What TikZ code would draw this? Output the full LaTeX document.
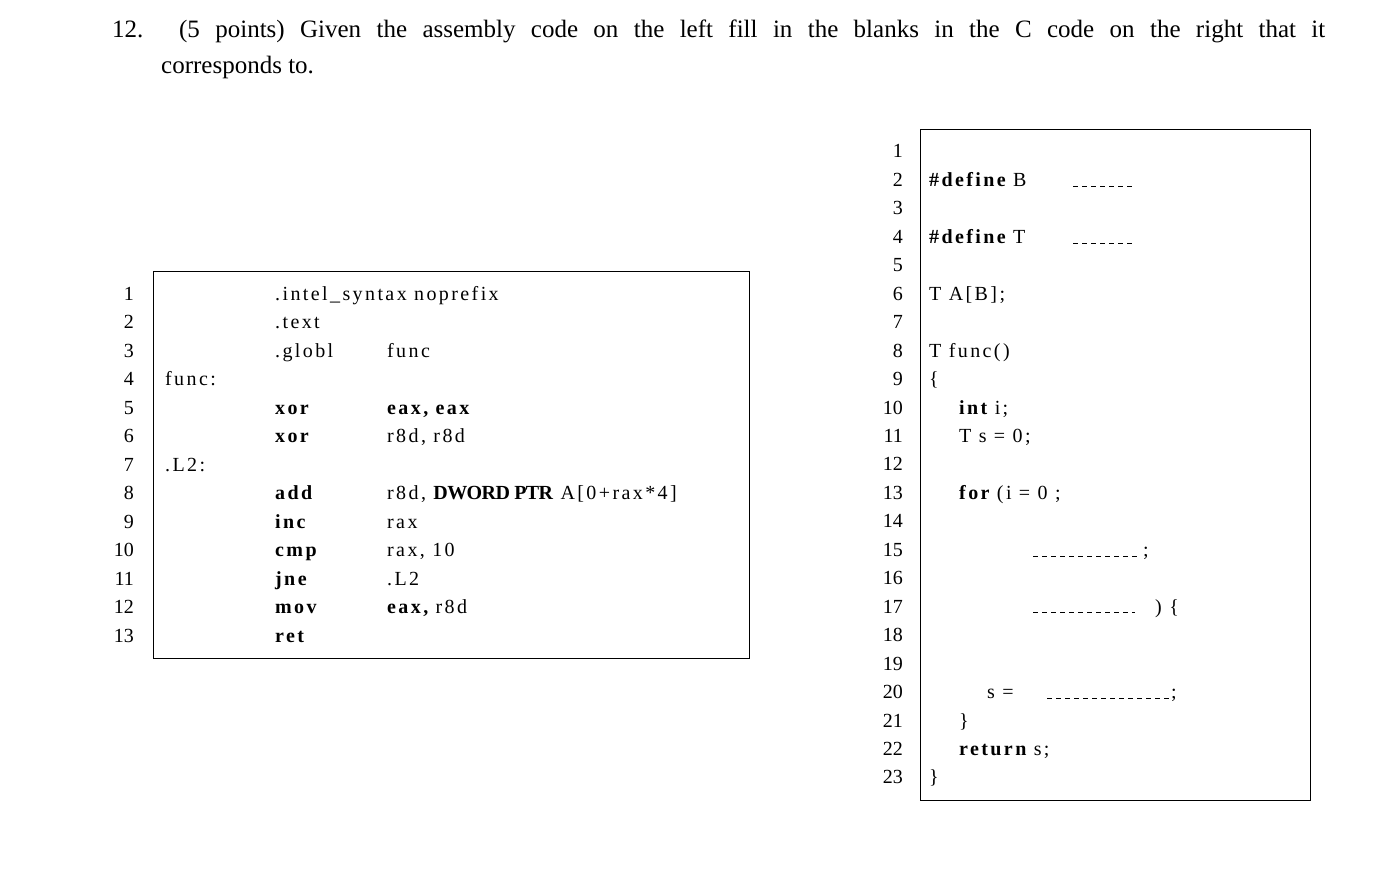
\documentclass[tikz,border=0pt]{standalone}
\usepackage{fontspec}
\setmainfont{Liberation Serif}
\newfontfamily\codefont[LetterSpace=12]{Liberation Serif}
\begin{document}
\begin{tikzpicture}[x=1pt,y=-1pt,
  txt/.style={anchor=base west,inner sep=0pt,font=\fontsize{25}{30}\selectfont},
  cd/.style={anchor=base west,inner sep=0pt,font=\fontsize{20}{24}\selectfont\codefont},
  ln/.style={anchor=base east,inner sep=0pt,font=\fontsize{20}{24}\selectfont},
  blank/.style={line width=0.8pt,dash pattern=on 5pt off 4pt}]
\useasboundingbox (0,0) rectangle (1394,869);
\node[txt] (t1) at (112,38) {\makebox[1213pt][s]{12. (5 points) Given the assembly code on the left fill in the blanks in the C code on the right that it}};
\node[txt] (t2) at (161,74) {corresponds to.};
% left box
\draw[line width=0.8pt] (153,271) rectangle (749,658);
\foreach \i in {1,...,13}{\node[ln] (l\i) at (134,{300+(\i-1)*28.5}) {\i};}
\def\ry#1{{300+(#1-1)*28.5}}
\node[cd] (a1) at (275,\ry{1}) {.intel\_syntax noprefix};
\node[cd] (a2) at (275,\ry{2}) {.text};
\node[cd] (a3) at (275,\ry{3}) {.globl};
\node[cd] (a3b) at (387,\ry{3}) {func};
\node[cd] (a4) at (165,\ry{4}) {func:};
\node[cd] (a5) at (275,\ry{5}) {\bfseries xor};
\node[cd] (a5b) at (387,\ry{5}) {\bfseries eax, eax};
\node[cd] (a6) at (275,\ry{6}) {\bfseries xor};
\node[cd] (a6b) at (387,\ry{6}) {r8d, r8d};
\node[cd] (a7) at (165,\ry{7}) {.L2:};
\node[cd] (a8) at (275,\ry{8}) {\bfseries add};
\node[cd] (a8b) at (387,\ry{8}) {r8d, {\addfontfeature{LetterSpace=-3}\bfseries DWORD PTR} A[0+rax*4]};
\node[cd] (a9) at (275,\ry{9}) {\bfseries inc};
\node[cd] (a9b) at (387,\ry{9}) {rax};
\node[cd] (a10) at (275,\ry{10}) {\bfseries cmp};
\node[cd] (a10b) at (387,\ry{10}) {rax, 10};
\node[cd] (a11) at (275,\ry{11}) {\bfseries jne};
\node[cd] (a11b) at (387,\ry{11}) {.L2};
\node[cd] (a12) at (275,\ry{12}) {\bfseries mov};
\node[cd] (a12b) at (387,\ry{12}) {\bfseries eax, {\mdseries r8d}};
\node[cd] (a13) at (275,\ry{13}) {\bfseries ret};
% right box
\draw[line width=0.8pt] (920,129) rectangle (1310,800);
\def\sy#1{{158+(#1-1)*28.45}}
\foreach \i in {1,...,23}{\node[ln] (r\i) at (903,{158+(\i-1)*28.45}) {\i};}
\node[cd] (c2) at (929,\sy{2}) {\bfseries \#define {\mdseries B}};
\node[cd] (c4) at (929,\sy{4}) {\bfseries \#define {\mdseries T}};
\node[cd] (c6) at (929,\sy{6}) {T A[B];};
\node[cd] (c8) at (929,\sy{8}) {T func()};
\node[cd] (c9) at (929,\sy{9}) {\{};
\node[cd] (c10) at (959,\sy{10}) {\bfseries int {\mdseries i;}};
\node[cd] (c11) at (959,\sy{11}) {T s = 0;};
\node[cd] (c13) at (959,\sy{13}) {\bfseries for {\mdseries (i = 0 ;}};
\node[cd] (c15) at (1143,\sy{15}) {;};
\node[cd] (c17) at (1155,\sy{17}) {) \{};
\node[cd] (c20) at (987,\sy{20}) {s =};
\node[cd] (c20b) at (1171,\sy{20}) {;};
\node[cd] (c21) at (959,\sy{21}) {\}};
\node[cd] (c22) at (959,\sy{22}) {\bfseries return {\mdseries s;}};
\node[cd] (c23) at (929,\sy{23}) {\}};
\draw[blank] (1073,186) -- (1132,186);
\draw[blank] (1073,243) -- (1132,243);
\draw[blank] (1033,556) -- (1140,556);
\draw[blank] (1033,612) -- (1135,612);
\draw[blank] (1047,698) -- (1170,698);
\end{tikzpicture}
\end{document}
